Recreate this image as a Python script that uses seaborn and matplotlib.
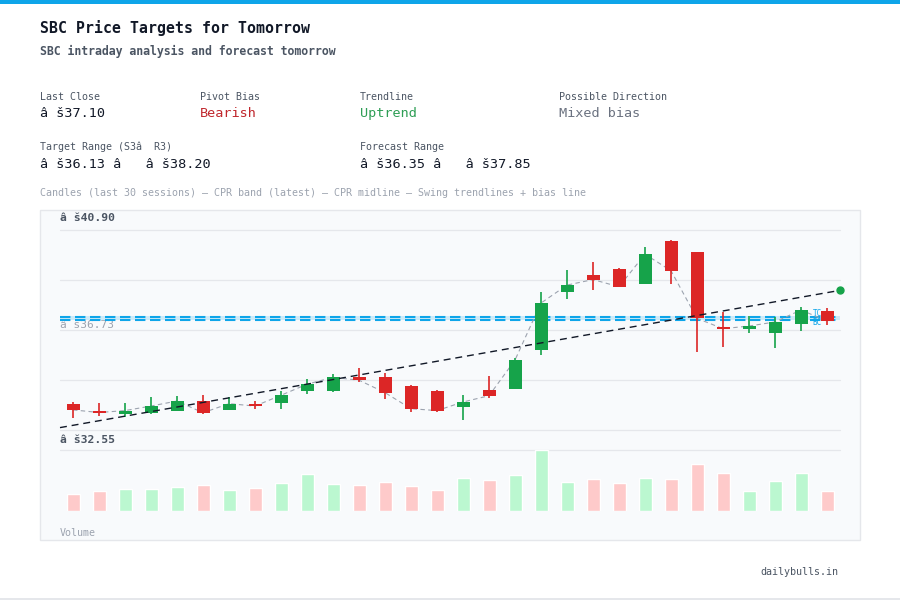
import numpy as np
import pandas as pd
import matplotlib
matplotlib.use("Agg")
import matplotlib.pyplot as plt
from matplotlib.patches import Rectangle
import seaborn as sns

# ---------------- data ----------------
opens  = [33.64, 33.36, 33.22, 33.27, 33.36, 33.76, 33.40, 33.64, 33.69, 34.19,
          34.19, 34.75, 34.75, 34.39, 34.18, 33.52, 34.22, 34.27, 35.89, 38.32,
          39.02, 39.27, 38.66, 40.44, 39.98, 36.85, 36.78, 36.61, 36.99, 37.52]
highs  = [33.73, 33.66, 33.66, 33.93, 33.97, 34.00, 33.94, 33.76, 34.19, 34.67,
          34.88, 35.13, 34.92, 34.42, 34.20, 34.00, 34.80, 35.54, 38.30, 39.22,
          39.55, 39.30, 40.19, 40.48, 39.98, 37.49, 37.30, 37.27, 37.69, 37.64]
lows   = [33.06, 33.15, 33.08, 33.22, 33.33, 33.23, 33.40, 33.44, 33.44, 34.07,
          34.15, 34.57, 33.83, 33.31, 33.31, 32.98, 33.90, 34.27, 35.68, 38.02,
          38.41, 38.50, 38.63, 38.66, 35.79, 36.03, 36.61, 35.99, 36.70, 36.93]
closes = [33.39, 33.28, 33.36, 33.55, 33.76, 33.27, 33.65, 33.55, 34.00, 34.46,
          34.75, 34.63, 34.11, 33.44, 33.36, 33.72, 33.98, 35.47, 37.85, 38.60,
          38.83, 38.53, 39.89, 39.20, 37.21, 36.78, 36.89, 37.06, 37.56, 37.10]
volumes = [52, 60, 66, 66, 72, 78, 63, 69, 84, 112,
           81, 78, 87, 75, 63, 99, 93, 108, 183, 87,
           96, 84, 99, 96, 141, 114, 60, 90, 114, 60]

price_top, price_mid, price_bottom = 40.90, 36.73, 32.55
cpr_tc, cpr_bc = 37.28, 37.16
trend_start, trend_end = 32.65, 38.38

title = "SBC Price Targets for Tomorrow"
subtitle = "SBC intraday analysis and forecast tomorrow"
metric_labels = ["Last Close", "Pivot Bias", "Trendline", "Possible Direction",
                 "Target Range (S3â  R3)", "Forecast Range"]
metric_values = ["â š37.10", "Bearish", "Uptrend", "Mixed bias",
                 "â š36.13 â   â š38.20", "â š36.35 â   â š37.85"]
caption = "Candles (last 30 sessions) – CPR band (latest) – CPR midline – Swing trendlines + bias line"
price_labels = ["â š40.90", "â š36.73", "â š32.55"]
cpr_labels = ["TC", "BC"]
footer = "dailybulls.in"

# ---------------- style ----------------
sns.set_style("white")
plt.rcParams["font.family"] = ["DejaVu Sans Mono", "DejaVu Sans"]

GREEN = "#16a34a"
RED = "#dc2626"
GREEN_L = "#bbf7d0"
RED_L = "#fecaca"
BLUE = "#0ea5e9"
GRID = "#e5e7eb"

W, H = 900, 600
fig = plt.figure(figsize=(9, 6), dpi=100)
fig.patch.set_facecolor("white")

def fx(x):
    return x / W

def fy(y):
    return 1 - y / H

# top accent bar & bottom border & chart panel (behind axes)
fig.patches.append(Rectangle((0, fy(4)), 1, 4 / H, transform=fig.transFigure,
                             facecolor=BLUE, edgecolor="none", zorder=-2))
fig.patches.append(Rectangle((0, 0), 1, 2 / H, transform=fig.transFigure,
                             facecolor=GRID, edgecolor="none", zorder=-2))
fig.patches.append(Rectangle((fx(40), fy(540)), 820 / W, 330 / H, transform=fig.transFigure,
                             facecolor="#f8fafc", edgecolor=GRID, linewidth=1, zorder=-2))

# ---------------- header text ----------------
fig.text(fx(40), fy(28), title, fontsize=10.7, fontweight="bold", color="#111827", va="center")
fig.text(fx(40), fy(51), subtitle, fontsize=8.3, fontweight="bold", color="#4b5563", va="center")

val_colors = ["#111827", "#c0272d", "#2e9e55", "#6b7280", "#111827", "#111827"]
pos = [(40, 97), (200, 97), (360, 97), (559, 97), (40, 147), (360, 147)]
for lab, val, col, (x, y) in zip(metric_labels, metric_values, val_colors, pos):
    fig.text(fx(x), fy(y), lab, fontsize=7.2, color="#4b5563", va="center")
    fig.text(fx(x), fy(y + 17), val, fontsize=9.7, color=col, va="center")

fig.text(fx(40), fy(193), caption, fontsize=7.2, color="#9ca3af", va="center")
fig.text(fx(760), fy(572), footer, fontsize=7.2, color="#4b5563", va="center")

# ---------------- price axes ----------------
ax = fig.add_axes([fx(60), fy(430), 780 / W, 200 / H])
ax.set_facecolor("none")
n = len(closes)
idx = np.arange(n)
ax.set_xlim(-0.5, n - 0.5)
ax.set_ylim(price_bottom, price_top)
for s in ax.spines.values():
    s.set_visible(False)
ax.set_xticks([])
ax.set_yticks([])

grid_vals = np.linspace(price_bottom, price_top, 5)
for g in grid_vals:
    ax.axhline(g, color=GRID, lw=0.9, zorder=0, clip_on=False)

# mid price label (under the CPR lines)
ax.text(0, price_mid, price_labels[1], transform=ax.get_yaxis_transform(),
        fontsize=8.0, color="#9ca3af", va="bottom", ha="left", zorder=1)

# CPR band
ax.fill_between([-0.5, n - 0.5], cpr_bc - 0.03, cpr_tc + 0.03, color=BLUE, alpha=0.18, lw=0, zorder=1.5)
for lvl in (cpr_tc, cpr_bc):
    ax.plot([-0.5, n - 0.5], [lvl, lvl], color=BLUE, lw=1.5, dashes=(5, 2.2), zorder=2)
ax.text(n - 1.55, cpr_bc + 0.06, cpr_labels[0], color=BLUE, fontsize=5.5, va="bottom", ha="left", zorder=6)
ax.text(n - 1.55, cpr_bc + 0.06, cpr_labels[1], color=BLUE, fontsize=5.5, va="top", ha="left", zorder=6)

# closes line
df = pd.DataFrame({"i": idx, "close": closes})
sns.lineplot(data=df, x="i", y="close", ax=ax, color="#9ca3af", lw=0.8, zorder=3)
ax.lines[-1].set_dashes((4, 3))

# candles
o = np.array(opens); c = np.array(closes)
up = c >= o
cols = np.where(up, GREEN, RED)
ax.vlines(idx, lows, highs, colors=cols, lw=1.2, zorder=4)
ax.bar(idx, np.maximum(np.abs(c - o), 0.05), bottom=np.minimum(o, c), width=0.5,
       color=cols, edgecolor="none", zorder=5)

# trendline + bias dot
ax.plot([-0.5, n - 0.5], [trend_start, trend_end], color="#111827", lw=1.0,
        dashes=(5, 3.5), zorder=6, clip_on=False)
ax.plot([n - 0.5], [trend_end], "o", color=GREEN, ms=5, zorder=7, clip_on=False)
ax.set_xlabel(""); ax.set_ylabel("")

# price labels top / bottom
fig.text(fx(60), fy(218), price_labels[0], fontsize=8.2, fontweight="bold", color="#4b5563", va="center")
fig.text(fx(60), fy(440), price_labels[2], fontsize=8.2, fontweight="bold", color="#4b5563", va="center")

# ---------------- volume axes ----------------
axv = fig.add_axes([fx(60), fy(511), 780 / W, 61 / H])
axv.set_facecolor("none")
vdf = pd.DataFrame({"i": idx, "vol": volumes, "dir": np.where(up, "up", "down")})
sns.barplot(data=vdf, x="i", y="vol", hue="dir", palette={"up": GREEN_L, "down": RED_L},
            native_scale=True, dodge=False, width=0.5, saturation=1, legend=False,
            ax=axv, zorder=2)
axv.set_xlim(-0.5, n - 0.5)
axv.set_ylim(0, max(volumes))
axv.axhline(max(volumes), color=GRID, lw=0.9, zorder=0, clip_on=False)
for s in axv.spines.values():
    s.set_visible(False)
axv.set_xticks([]); axv.set_yticks([])
axv.set_xlabel(""); axv.set_ylabel("")
fig.text(fx(60), fy(533), "Volume", fontsize=7.2, color="#9ca3af", va="center")

fig.savefig("out.png", dpi=100)
